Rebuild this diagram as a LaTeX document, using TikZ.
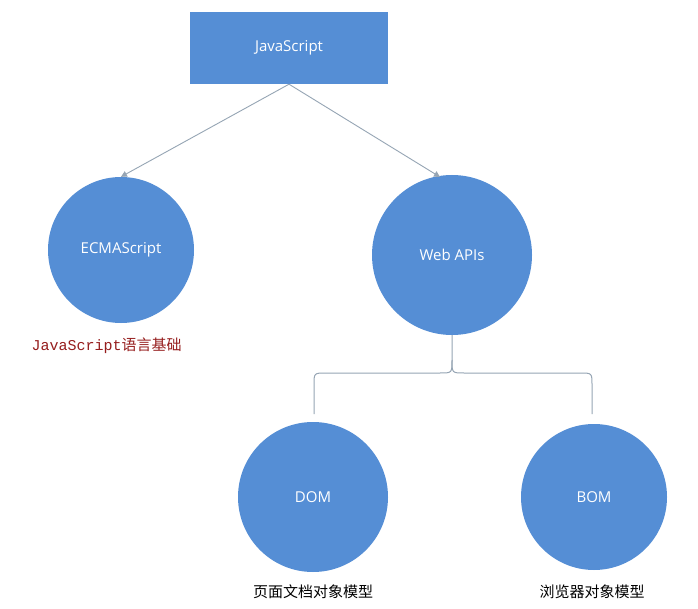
\documentclass[tikz,border=0pt]{standalone}
\usepackage{fontspec}
\setmainfont{Open Sans}
\setmonofont{Liberation Mono}
\newfontfamily\cjk{Noto Sans CJK SC}
\usetikzlibrary{arrows.meta}
\definecolor{nodeblue}{RGB}{85,142,213}
\definecolor{linegray}{RGB}{150,165,180}
\definecolor{notered}{RGB}{150,30,30}
\begin{document}
\begin{tikzpicture}[x=1pt,y=-1pt,
  blob/.style={circle,fill=nodeblue,text=white,font=\fontsize{15}{18}\selectfont},
  link/.style={draw=linegray,line width=0.9pt,-{Triangle[length=6pt,width=6pt]}},
  note/.style={font=\fontsize{15}{18}\selectfont}]
  \useasboundingbox (0,0) rectangle (698,609);
  \fill[white] (0,0) rectangle (698,609);

  \node[fill=nodeblue,text=white,minimum width=198pt,minimum height=72pt,
        font=\fontsize{15}{18}\selectfont] (js) at (289,48) {JavaScript};
  \node[blob,minimum size=146pt] (ecma) at (121,250) {ECMAScript};
  \node[blob,minimum size=160pt] (web) at (452,255) {Web APIs};
  \node[blob,minimum size=150pt] (dom) at (313,497) {DOM};
  \node[blob,minimum size=146pt] (bom) at (594,497) {BOM};

  \draw[link] (js.south) -- (ecma.north);
  \draw[link] (js.south) -- (440,177);

  % brace under Web APIs
  \draw[linegray,line width=1pt] (web.south) -- (452,360)
    .. controls (452,373) .. (440,373) -- (326,373)
    .. controls (314,373) .. (314,385) -- (314,414);
  \draw[linegray,line width=1pt] (452,360)
    .. controls (452,373) .. (464,373) -- (580,373)
    .. controls (592,373) .. (592,385) -- (592,414);

  \node[note,text=notered,anchor=west] (n1) at (28,346)
    {\texttt{JavaScript}{\cjk 语言基础}};
  \node[note] (n2) at (313,592) {\cjk 页面文档对象模型};
  \node[note] (n3) at (592,592) {\cjk 浏览器对象模型};
\end{tikzpicture}
\end{document}
